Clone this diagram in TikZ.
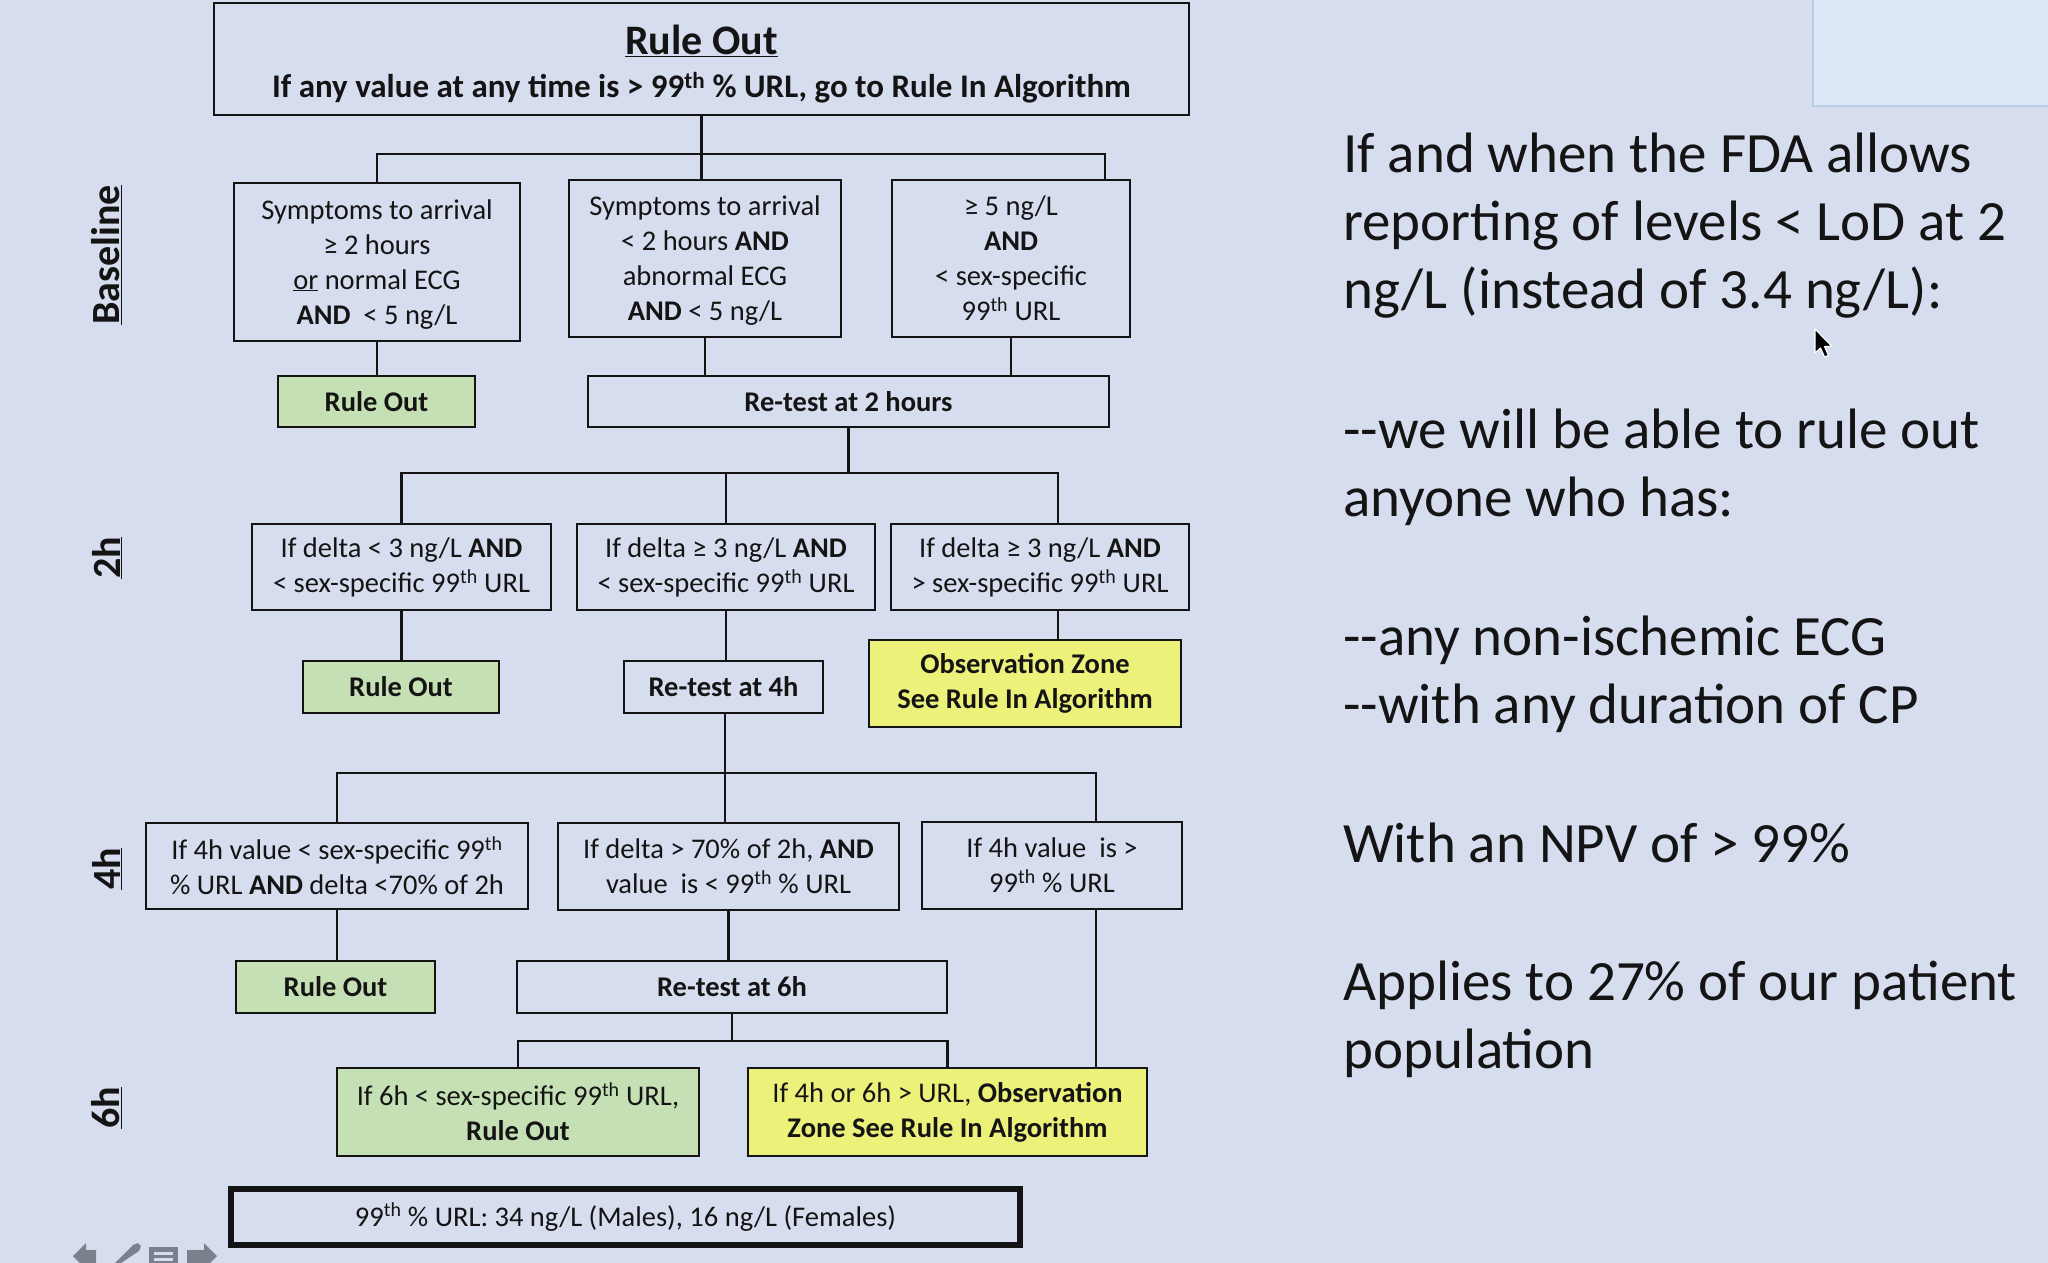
\documentclass[tikz,border=0pt]{standalone}
\usepackage{fontspec}
\setmainfont{Carlito}
\usetikzlibrary{calc}
\definecolor{bgc}{RGB}{214,221,238}
\definecolor{greenc}{RGB}{197,224,180}
\definecolor{yellowc}{RGB}{236,241,122}
\definecolor{cornerc}{RGB}{221,231,245}
\definecolor{cornerd}{RGB}{186,205,230}
\definecolor{navc}{RGB}{122,128,140}
\definecolor{inkc}{RGB}{20,20,20}
\newcommand{\thsup}{\textsuperscript{th}}
\newcommand{\rowsblock}[2]{\begin{tabular}{@{}c@{}}\rule{0pt}{#1}#2\end{tabular}}
\begin{document}
\begin{tikzpicture}[x=1pt,y=-1pt,
  box/.style={draw=inkc, line width=2.4pt, inner sep=0pt, align=center,
    font=\fontsize{28.5}{35}\selectfont, text=inkc},
  gbox/.style={box, fill=greenc},
  ybox/.style={box, fill=yellowc},
  wire/.style={draw=inkc, line width=2.4pt},
  side/.style={rotate=90, inner sep=0pt, text=inkc, font=\fontsize{40}{44}\selectfont\bfseries},
  note/.style={anchor=base west, inner sep=0pt, text=inkc, font=\fontsize{57}{68}\selectfont}]

\fill[bgc] (0,0) rectangle (2048,1263);
\useasboundingbox (0,0) rectangle (2048,1263);

% top-right pane
\draw[cornerd, fill=cornerc, line width=1.5pt] (2050,-2) -| (1813,106) -- (2050,106);

% top box
\node[box, minimum width=975, minimum height=112, font=\fontsize{33}{43}\selectfont\bfseries] (top) at (701.5,59)
  {\rowsblock{47pt}{{\fontsize{42}{44}\selectfont\underline{Rule Out}}\\
   If any value at any time is > 99\thsup\ \% URL, go to Rule In Algorithm}};

% side labels
\node[side] (lbase) at (107,255) {\underline{Baseline}};
\node[side] (l2h) at (107,558) {\underline{2h}};
\node[side] (l4h) at (107,869) {\underline{4h}};
\node[side] (l6h) at (107,1108) {\underline{6h}};

% baseline row
\node[box, minimum width=286, minimum height=158] (B1) at (377,262)
  {\rowsblock{29.5pt}{Symptoms to arrival\\ ≥ 2 hours\\ \underline{or} normal ECG\\ \textbf{AND}\ \ < 5 ng/L}};
\node[box, minimum width=272, minimum height=157] (B2) at (705,258.5)
  {\rowsblock{29.5pt}{Symptoms to arrival\\ < 2 hours \textbf{AND}\\ abnormal ECG\\ \textbf{AND} < 5 ng/L}};
\node[box, minimum width=238, minimum height=157] (B3) at (1011,258.5)
  {≥ 5 ng/L\\ \textbf{AND}\\ < sex-specific\\ 99\thsup\ URL};

\node[gbox, minimum width=197, minimum height=51] (RO1) at (376.5,401.5) {\textbf{Rule Out}};
\node[box, minimum width=521, minimum height=51] (RT2) at (848.5,401.5) {\textbf{Re-test at 2 hours}};

% 2h row
\node[box, minimum width=299, minimum height=86] (C1) at (401.5,567)
  {If delta < 3 ng/L \textbf{AND}\\ < sex-specific 99\thsup\ URL};
\node[box, minimum width=298, minimum height=86] (C2) at (726,567)
  {If delta ≥ 3 ng/L \textbf{AND}\\ < sex-specific 99\thsup\ URL};
\node[box, minimum width=298, minimum height=86] (C3) at (1040,567)
  {If delta ≥ 3 ng/L \textbf{AND}\\ > sex-specific 99\thsup\ URL};

\node[gbox, minimum width=196, minimum height=52] (RO2) at (401,687) {\textbf{Rule Out}};
\node[box, minimum width=199, minimum height=52] (RT4) at (723.5,687) {\textbf{Re-test at 4h}};
\node[ybox, minimum width=312, minimum height=87] (OZ) at (1025,683.5)
  {\textbf{Observation Zone}\\ \textbf{See Rule In Algorithm}};

% 4h row
\node[box, minimum width=382, minimum height=86] (D1) at (337,866)
  {If 4h value < sex-specific 99\thsup\\ \% URL \textbf{AND} delta <70\% of 2h};
\node[box, minimum width=341, minimum height=87] (D2) at (728.5,866.5)
  {If delta > 70\% of 2h, \textbf{AND}\\ value\ \ is < 99\thsup\ \% URL};
\node[box, minimum width=260, minimum height=87] (D3) at (1052,865.5)
  {If 4h value\ \ is >\\ 99\thsup\ \% URL};

\node[gbox, minimum width=199, minimum height=52] (RO3) at (335.5,987) {\textbf{Rule Out}};
\node[box, minimum width=430, minimum height=52] (RT6) at (732,987) {\textbf{Re-test at 6h}};

% 6h row
\node[gbox, minimum width=362, minimum height=88] (E1) at (518,1112)
  {If 6h < sex-specific 99\thsup\ URL,\\ \textbf{Rule Out}};
\node[ybox, minimum width=399, minimum height=88] (E2) at (947.5,1112)
  {If 4h or 6h > URL, \textbf{Observation}\\ \textbf{Zone See Rule In Algorithm}};

% footer
\node[box, line width=6pt, minimum width=789, minimum height=56] (foot) at (625.5,1217)
  {99\thsup\ \% URL: 34 ng/L (Males), 16 ng/L (Females)};

% connectors
\coordinate (j1) at (701.5,154);
\draw[wire] (top.south) -- (top.south |- B2.north);
\draw[wire] (B1.north) |- (j1) -| ([xshift=-26]B3.north east);
\draw[wire] (B1.south) -- (B1.south |- RO1.north);
\draw[wire] (B2.south) -- (B2.south |- RT2.north);
\draw[wire] (B3.south) -- (B3.south |- RT2.north);

\coordinate (j2) at (848.5,473);
\draw[wire] (RT2.south) -- (j2);
\draw[wire] (C1.north) |- (j2) -| ([xshift=-132]C3.north east);
\draw[wire] (j2 -| C2.north) -- (C2.north);
\draw[wire] (C1.south) -- (C1.south |- RO2.north);
\draw[wire] (C2.south) -- (C2.south |- RT4.north);
\draw[wire] ([xshift=-132]C3.south east) coordinate (c3o) -- (c3o |- OZ.north);

\coordinate (j3) at (725,773);
\draw[wire] (RT4.south -| j3) -- (j3 |- D2.north);
\draw[wire] (D1.north) |- (j3) -| ([xshift=-87]D3.north east);
\draw[wire] (D1.south) -- (D1.south |- RO3.north);
\draw[wire] (D2.south) -- (D2.south |- RT6.north);
\draw[wire] ([xshift=-87]D3.south east) coordinate (d3o) -- (d3o |- E2.north);

\coordinate (j4) at (732,1041);
\draw[wire] (RT6.south) -- (j4);
\draw[wire] (E1.north) |- (j4) -| (E2.north);

% right-hand notes
\node[note] (r1) at (1343,172) {If and when the FDA allows};
\node[note] (r2) at (1343,240) {reporting of levels < LoD at 2};
\node[note] (r3) at (1343,308) {ng/L (instead of 3.4 ng/L):};
\node[note] (r4) at (1343,448) {-{}-we will be able to rule out};
\node[note] (r5) at (1343,516) {anyone who has:};
\node[note] (r6) at (1343,655) {-{}-any non-ischemic ECG};
\node[note] (r7) at (1343,723) {-{}-with any duration of CP};
\node[note] (r8) at (1343,862) {With an NPV of > 99\%};
\node[note] (r9) at (1343,1000) {Applies to 27\% of our patient};
\node[note] (r10) at (1343,1068) {population};

% mouse cursor
\draw[white, fill=black, line width=1.2pt, line join=round]
  (1815,329) -- (1815,353) -- (1820.5,348) -- (1824.5,357) -- (1828.5,355.5)
  -- (1824.5,346.5) -- (1832,346.5) -- cycle;

% slide-show navigation icons
\fill[navc] (73,1256) -- (86,1243) -- (86,1250) -- (96,1250) -- (96,1263) -- (80,1263) -- cycle;
\fill[navc] (115,1263) -- (133,1245) -- (138,1243) -- (141,1246) -- (139,1251) -- (121,1263) -- cycle;
\fill[navc] (149,1247) rectangle (178,1263);
\fill[bgc] (154,1252) rectangle (173,1255);
\fill[bgc] (154,1258) rectangle (173,1261);
\fill[navc] (217,1256) -- (204,1243) -- (204,1250) -- (187,1250) -- (187,1263) -- (210,1263) -- cycle;
\end{tikzpicture}
\end{document}
